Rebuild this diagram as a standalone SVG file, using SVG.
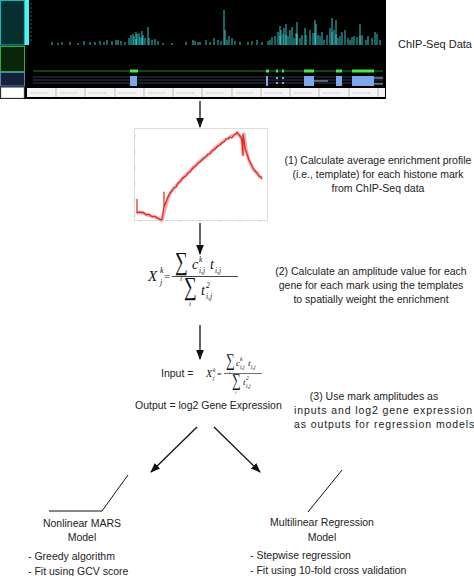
<svg xmlns="http://www.w3.org/2000/svg" width="474" height="576" viewBox="0 0 474 576">
<style>
.t{font-family:"Liberation Sans",Arial,sans-serif;font-size:10.5px;fill:#222}
.m{font-family:"Liberation Serif","Times New Roman",serif;font-style:italic;fill:#111}
.s{font-family:"Liberation Serif","DejaVu Serif",serif;fill:#111}
.ar{fill:none;stroke:#111;stroke-width:1.3;marker-end:url(#ah)}
.ln{fill:none;stroke:#111;stroke-width:1}
</style>
<defs>
<marker id="ah" viewBox="0 0 10 10" refX="9" refY="5" markerWidth="10" markerHeight="10" markerUnits="userSpaceOnUse" orient="auto">
<path d="M0,1.2 L10,5 L0,8.8 z" fill="#111"/>
</marker>
</defs>
<rect width="474" height="576" fill="#fff"/>

<g id="chipseq-panel">
<rect x="0" y="0" width="386" height="99" fill="#000"/>
<rect x="0.5" y="0.5" width="24" height="44.5" fill="#06302f" stroke="#1bb" stroke-width="1"/>
<rect x="0.5" y="46.5" width="24" height="25" fill="#0a260a" stroke="#3a3" stroke-width="1"/>
<rect x="0.5" y="72.5" width="24" height="13.5" fill="#14213a" stroke="#5a7fb5" stroke-width="1"/>
<rect x="1" y="87.5" width="23" height="10.5" fill="#fff" stroke="#999" stroke-width="0.6"/>
<rect x="25" y="0" width="4" height="45" fill="#4ef0f0"/>
<path d="M30 4h2M30 8h2M30 12h2M30 16h2M30 20h2M30 24h2M30 28h2M30 32h2M30 36h2M30 40h2" stroke="#2aa" stroke-width="0.6"/>
<path stroke="#2cc8c8" stroke-width="1" fill="none" d="M52 45V42M58 45V43M62 45V42M70 45V42M78 45V43M84 45V41M90 45V42M95 45V42M100 45V41M104 45V42M107 45V40M112 45V41M116 45V40M118 45V40M121 45V41M125 45V42M129 45V38M131 45V35M133 45V34M134 45V36M136 45V32M137 45V34M139 45V33M140 45V37M142 45V31M143 45V35M145 45V38M148 45V27M149 45V38M152 45V40M155 45V39M158 45V41M163 45V43M172 45V43M186 45V42M193 45V40M195 45V41M198 45V42M200 45V42M206 45V40M210 45V42M214 45V38M218 45V40M221 45V41M224 45V10M225 45V30M227 45V40M229 45V36M232 45V38M235 45V41M240 45V42M248 45V42M252 45V41M257 45V40M262 45V42M268 45V41M270 45V40M272 45V37M275 45V36M278 45V32M280 45V26M281 45V30M283 45V34M284 45V28M286 45V24M288 45V36M290 45V30M292 45V27M294 45V38M296 45V33M297 45V22M300 45V38M302 45V35M305 45V28M306 45V35M310 45V30M313 45V33M315 45V20M316 45V24M318 45V35M320 45V36M322 45V32M324 45V40M327 45V35M330 45V28M332 45V18M334 45V30M336 45V20M338 45V38M340 45V36M342 45V32M345 45V30M348 45V38M350 45V40M352 45V37M354 45V36M357 45V37M360 45V24M362 45V35M366 45V40M368 45V36M372 45V38M375 45V32M377 45V34M380 45V40"/>
<path stroke="#8ff" stroke-width="1" fill="none" opacity="0.55" d="M136 45V39M142 45V38M280 45V36M286 45V35M297 45V34M315 45V33M332 45V32M336 45V34M360 45V36"/>
<line x1="33" y1="71" x2="383" y2="71" stroke="#1c8a1c" stroke-width="1"/>
<g fill="#3ef03e">
<rect x="130" y="69.5" width="8" height="3"/><rect x="266" y="69.5" width="3" height="3"/><rect x="276" y="69.5" width="2" height="3"/><rect x="282" y="69.5" width="2" height="3"/><rect x="304" y="69.5" width="10" height="3"/><rect x="336" y="69.5" width="6" height="3"/><rect x="352" y="69.5" width="22" height="3"/>
</g>
<path d="M33 77H383M33 80H383M33 83H383" stroke="#4a5570" stroke-width="0.7"/>
<g fill="#7ea6ea">
<rect x="130" y="76" width="7" height="10"/><rect x="266" y="76" width="2" height="10"/><rect x="276" y="77" width="2" height="2"/><rect x="276" y="82" width="2" height="2"/><rect x="282" y="77" width="2" height="2"/><rect x="282" y="82" width="2" height="2"/><rect x="304" y="76" width="10" height="10"/><rect x="336" y="76" width="6" height="10"/><rect x="352" y="76" width="22" height="10"/>
</g>
<path d="M314 81H328M374 78H383M374 84H383" stroke="#9ab8e8" stroke-width="1.2"/>
<rect x="27" y="88" width="358" height="9" fill="#f4f4f4"/>
<path d="M56 88V97M85 88V97M115 88V97M144 88V97M173 88V97M202 88V97M232 88V97M261 88V97M290 88V97M319 88V97M349 88V97M378 88V97" stroke="#999" stroke-width="0.6"/>
<path d="M31 93h18M60 93h18M89 93h18M119 93h18M148 93h18M177 93h18M206 93h18M236 93h18M265 93h18M294 93h18M323 93h18M353 93h18" stroke="#bbb" stroke-width="1.2" stroke-dasharray="1.5 1"/>
</g>

<g id="chipseq-label">
<text class="t" x="398" y="48" style="font-size:11px">ChIP-Seq Data</text>
</g>

<g id="template-plot">
<rect x="134.5" y="128.5" width="133" height="92" fill="#fff" stroke="#ddd" stroke-width="1"/>
<path d="M134 136h2M134 152h2M134 168h2M134 184h2M134 200h2M134 216h2M140 220v2M160 220v2M180 220v2M200 220v2M220 220v2M240 220v2M260 220v2" stroke="#bbb" stroke-width="0.6"/>
<polyline fill="none" stroke="#f5a3a3" stroke-width="3.2" stroke-linejoin="round" points="137,213 140,212 145,214 150,216 155,217 160,219 162,220 164,212 168,198 172,190 176,186 180,181 185,176 190,171 195,166 200,161 205,157 210,153 215,148 220,144 225,140 230,137 234,135 237,133 240,136 242,140 243,155 244,134 246,150 249,160 253,169 257,173 260,177 262,178"/>
<polyline fill="none" stroke="#e0261e" stroke-width="1.2" stroke-linejoin="round" points="137,199 137,213 139,212 141,213 143,212 145,214 147,215 149,214 151,216 153,217 155,216 157,218 159,219 161,220 162,219 163,214 164,205 164,192 164,207 166,202 168,197 170,193 172,191 174,188 176,187 178,183 180,182 182,179 184,177 186,176 188,173 190,172 192,169 194,167 196,166 198,163 200,162 202,160 204,158 206,157 208,154 210,154 212,151 214,150 216,148 218,146 220,145 222,143 224,142 226,139 228,139 230,137 232,138 234,135 236,134 237,132 239,135 241,137 242,141 243,155 243,134 244,140 245,148 247,154 249,160 251,164 253,168 255,171 257,173 259,176 261,177 262,179"/>
</g>

<g id="step1-text">
<text class="t" text-anchor="middle" x="378" y="164">(1) Calculate average enrichment profile</text>
<text class="t" text-anchor="middle" x="378" y="178">(i.e., template) for each histone mark</text>
<text class="t" text-anchor="middle" x="378" y="192">from ChIP-Seq data</text>
</g>

<g id="formula1">
<text class="m" x="148" y="281" font-size="15">X</text>
<text class="m" x="160" y="273" font-size="8">k</text>
<text class="m" x="160" y="285" font-size="8">j</text>
<text class="s" x="164" y="280" font-size="11">=</text>
<line x1="172" y1="276.5" x2="238" y2="276.5" stroke="#111" stroke-width="0.8"/>
<text class="s" x="175" y="270" font-size="18" transform="translate(175 270) scale(1 1.45) translate(-175 -270)">∑</text>
<text class="m" x="180" y="281" font-size="7">i</text>
<text class="m" x="192" y="269" font-size="14">c</text>
<text class="m" x="199" y="262" font-size="7.5">k</text>
<text class="m" x="199" y="273" font-size="7.5">i,j</text>
<text class="m" x="210" y="269" font-size="14">t</text>
<text class="m" x="215" y="273" font-size="7.5">i,j</text>
<text class="s" x="184" y="295" font-size="18" transform="translate(184 295) scale(1 1.45) translate(-184 -295)">∑</text>
<text class="m" x="189" y="306" font-size="7">i</text>
<text class="m" x="201" y="295" font-size="14">t</text>
<text class="m" x="206" y="288" font-size="7.5">2</text>
<text class="m" x="206" y="299" font-size="7.5">i,j</text>
</g>

<g id="step2-text">
<text class="t" text-anchor="middle" x="371" y="275">(2) Calculate an amplitude value for each</text>
<text class="t" text-anchor="middle" x="371" y="289">gene for each mark using the templates</text>
<text class="t" text-anchor="middle" x="371" y="303">to spatially weight the enrichment</text>
</g>

<g id="formula2">
<text class="t" x="161" y="377">Input =</text>
<text class="m" x="206" y="377" font-size="10">X</text>
<text class="m" x="213" y="372" font-size="5.5">k</text>
<text class="m" x="213" y="380" font-size="5.5">j</text>
<text class="s" x="217" y="377" font-size="8">=</text>
<line x1="224" y1="373.5" x2="262" y2="373.5" stroke="#111" stroke-width="0.6"/>
<text class="s" x="226" y="366" font-size="12" transform="translate(226 366) scale(1 1.5) translate(-226 -366)">∑</text>
<text class="m" x="229" y="374" font-size="5">i</text>
<text class="m" x="236" y="366" font-size="9">c</text>
<text class="m" x="240" y="361" font-size="5.5">k</text>
<text class="m" x="240" y="369" font-size="5.5">i,j</text>
<text class="m" x="248" y="366" font-size="9">t</text>
<text class="m" x="251" y="369" font-size="5.5">i,j</text>
<text class="s" x="232" y="386" font-size="12" transform="translate(232 386) scale(1 1.5) translate(-232 -386)">∑</text>
<text class="m" x="235" y="394" font-size="5">i</text>
<text class="m" x="243" y="385" font-size="9">t</text>
<text class="m" x="246" y="380" font-size="5.5">2</text>
<text class="m" x="246" y="388" font-size="5.5">i,j</text>
<text class="t" x="135" y="409">Output = log2 Gene Expression</text>
</g>

<g id="step3-text">
<text class="t" text-anchor="middle" x="374" y="400">(3) Use mark amplitudes as</text>
<text class="t" x="294" y="414" style="letter-spacing:0.9px">inputs and log2 gene expression</text>
<text class="t" x="294" y="428" style="letter-spacing:0.9px">as outputs for regression models</text>
</g>

<g id="mars-model">
<text class="t" text-anchor="middle" x="82" y="527">Nonlinear MARS</text>
<text class="t" text-anchor="middle" x="82" y="541">Model</text>
<text class="t" x="28" y="560">- Greedy algorithm</text>
<text class="t" x="28" y="575">- Fit using GCV score</text>
</g>

<g id="mlr-model">
<text class="t" text-anchor="middle" x="322" y="526">Multilinear Regression</text>
<text class="t" text-anchor="middle" x="322" y="541">Model</text>
<text class="t" x="250" y="559">- Stepwise regression</text>
<text class="t" x="250" y="574">- Fit using 10-fold cross validation</text>
</g>

<g id="connectors">
<path class="ar" d="M200,101 V127"/>
<path class="ar" d="M200,223 V254"/>
<path class="ar" d="M200,325 V359"/>
<path class="ar" d="M197,427 L151,472"/>
<path class="ar" d="M214,427 L260,472"/>
<polyline class="ln" points="49,511 102,511 128,475"/>
<line class="ln" x1="342" y1="470" x2="308" y2="512"/>
</g>
</svg>
